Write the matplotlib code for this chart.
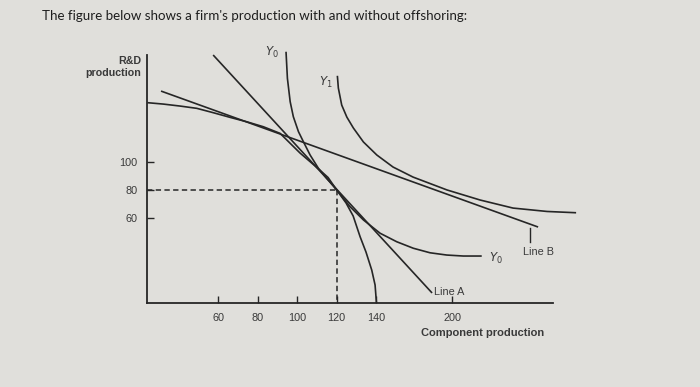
import numpy as np
import matplotlib
matplotlib.use("Agg")
import matplotlib.pyplot as plt

# ====== data (component units, R&D units) ======
ppf_x = [24.2, 32.3, 40.8, 49.2, 57.6, 66.1, 74.5, 82.9, 91.4, 101.5, 110.6, 115.7, 120,
         124.8, 128.4, 131.9, 134.9, 137.8, 139.5, 140.3]
ppf_y = [141.6, 140.6, 139.2, 137.6, 134.5, 131.2, 128.1, 124.6, 119.9, 106.0, 95.1, 88.7, 80,
         70.7, 61.5, 46.9, 36.0, 23.3, 12.7, 0]

line_a_x = [57.5, 184.2]
line_a_y = [175.3, 7.1]

line_b_x = [31.1, 267.9]
line_b_y = [149.8, 53.7]

y0_x = [94.4, 95.1, 96.5, 98.1, 100.7, 103.2, 106.6, 110.8, 115.0, 120,
        126.8, 133.6, 143.2, 156.3, 169.4, 182.6, 195.8, 208.9, 223.4]
y0_y = [177.6, 158.8, 142.3, 131.7, 121.1, 114.0, 104.6, 95.2, 88.1, 80,
        68.1, 58.7, 49.3, 43.3, 38.7, 35.5, 33.9, 33.2, 33.2]

y1_x = [120.4, 120.9, 122.6, 125.2, 128.5, 133.6, 140.6, 153.4, 169.2, 196.0,
        222.1, 248.1, 275.0, 297.9]
y1_y = [160.6, 151.9, 139.9, 131.4, 123.7, 113.8, 104.6, 96.1, 89.0, 79.9,
        72.8, 67.1, 64.7, 63.8]

opt_x, opt_y = 120, 80

xticks = [60, 80, 100, 120, 140, 200]
xtick_labels = ["60", "80", "100", "120", "140", "200"]
yticks = [60, 80, 100]
ytick_labels = ["60", "80", "100"]

# ====== 畫圖 ======
BG = "#e0dfdb"
INK = "#262626"
TXT = "#3a3a3a"

# the book's component axis is not to scale past 140
K = 0.6415
def fwd(v):
    v = np.asarray(v, dtype=float)
    return np.where(v <= 140, v, 140 + (v - 140) * K)

def inv(u):
    u = np.asarray(u, dtype=float)
    return np.where(u <= 140, u, 140 + (u - 140) / K)

fig = plt.figure(figsize=(7, 3.87), dpi=100, facecolor=BG)
ax = fig.add_axes([147 / 700, 84 / 387, 434.3 / 700, 248 / 387])
ax.set_facecolor(BG)
ax.set_xscale("function", functions=(fwd, inv))
ax.set_xlim(24, 302)
ax.set_ylim(0, 175.3)

curve_kw = dict(color=INK, lw=1.2, clip_on=False, solid_joinstyle="round",
                solid_capstyle="butt")
ax.plot(ppf_x, ppf_y, **curve_kw)
ax.plot(line_a_x, line_a_y, **curve_kw)
ax.plot(line_b_x, line_b_y, **curve_kw)
ax.plot(y0_x, y0_y, **curve_kw)
ax.plot(y1_x, y1_y, **curve_kw)

# dashed guides to the optimum
ax.plot([24, opt_x], [opt_y, opt_y], color=INK, lw=1.1, ls=(0, (3.5, 2.2)), clip_on=False)
ax.plot([opt_x, opt_x], [opt_y, 0], color=INK, lw=1.1, ls=(0, (3.5, 2.2)), clip_on=False)

# leader for Line B
ax.plot([261.5, 261.5], [53, 43], color=INK, lw=1.0, clip_on=False)

for s in ["top", "right"]:
    ax.spines[s].set_visible(False)
for s in ["left", "bottom"]:
    ax.spines[s].set_color(INK)
    ax.spines[s].set_linewidth(1.3)
ax.spines["bottom"].set_bounds(24, 279.7)

ax.set_xticks(xticks)
ax.set_xticklabels(xtick_labels)
ax.set_yticks(yticks)
ax.set_yticklabels(ytick_labels)
ax.xaxis.set_minor_locator(matplotlib.ticker.NullLocator())
ax.tick_params(axis="both", direction="in", length=5, width=1.0, color=INK,
               labelsize=7.8, labelcolor=TXT, pad=7)
for lab in ax.get_xticklabels() + ax.get_yticklabels():
    lab.set_family("Liberation Sans")

# labels
lab_font = dict(family="Liberation Sans", color=TXT)
ax.text(87.3, 177.4, r"$Y_0$", fontsize=8.5, ha="center", va="center", color=TXT)
ax.text(114.7, 156.2, r"$Y_1$", fontsize=8.5, ha="center", va="center", color=TXT)
ax.text(229.5, 31.8, r"$Y_0$", fontsize=8.5, ha="left", va="center", color=TXT)
ax.text(185.8, 8.0, "Line A", fontsize=7.8, ha="left", va="center", **lab_font)
ax.text(267.9, 36.0, "Line B", fontsize=7.8, ha="center", va="center", **lab_font)

fig.text(141 / 700, 1 - 66.5 / 387, "R&D\nproduction", fontsize=7.7, fontweight="bold",
         ha="right", va="center", multialignment="right", linespacing=1.25, **lab_font)
fig.text(421 / 700, 1 - 333 / 387, "Component production", fontsize=8.0,
         fontweight="bold", ha="left", va="center", **lab_font)

fig.text(42 / 700, 1 - 16 / 387,
         "The figure below shows a firm's production with and without offshoring:",
         fontsize=9.6, family="Lato", color="#1e1e1e", ha="left", va="center")

fig.savefig("out.png", dpi=100, facecolor=BG)
